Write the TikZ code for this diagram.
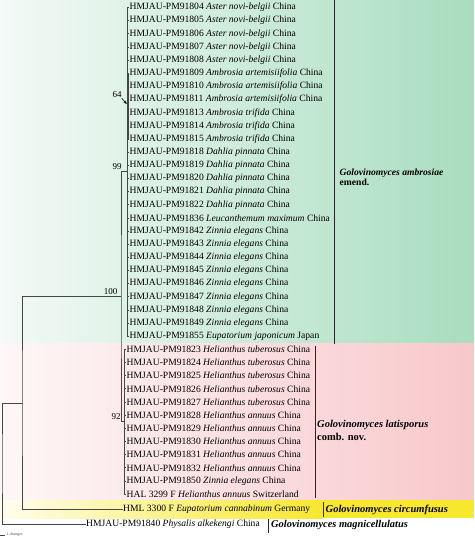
\documentclass[tikz,border=0pt]{standalone}
\usepackage{fontspec}
\setmainfont{Liberation Serif}
\usetikzlibrary{arrows.meta}
\definecolor{grnR}{RGB}{168,221,191}
\definecolor{grnL}{RGB}{244,250,247}
\definecolor{redR}{RGB}{248,200,203}
\definecolor{redL}{RGB}{254,247,247}
\definecolor{yelR}{RGB}{247,231,45}
\definecolor{yelL}{RGB}{255,254,238}
\definecolor{branch}{RGB}{70,70,70}
\begin{document}
\begin{tikzpicture}[x=1pt,y=-1pt,
  leaf/.style={anchor=west,inner sep=0.5pt,font=\fontsize{9.6}{11}\selectfont},
  br/.style={draw=branch,line width=0.8pt},
  cladebar/.style={draw=black!85,line width=0.9pt},
  boot/.style={inner sep=0pt,font=\fontsize{9}{10}\selectfont},
  clab/.style={anchor=west,inner sep=0pt,align=left}]
\useasboundingbox (0,0) rectangle (474,537);
% background bands
\shade[left color=grnL,right color=grnR] (0,0) rectangle (474,343);
\shade[left color=redL,right color=redR] (0,343) rectangle (474,500);
\shade[left color=yelL,right color=yelR] (0,500) rectangle (323,518);
\fill[yelR] (323,500) rectangle (474,518);
% green leaves
\foreach \i/\id/\sp/\ct in {
 0/HMJAU-PM91804/Aster novi-belgii/China,
 1/HMJAU-PM91805/Aster novi-belgii/China,
 2/HMJAU-PM91806/Aster novi-belgii/China,
 3/HMJAU-PM91807/Aster novi-belgii/China,
 4/HMJAU-PM91808/Aster novi-belgii/China,
 5/HMJAU-PM91809/Ambrosia artemisiifolia/China,
 6/HMJAU-PM91810/Ambrosia artemisiifolia/China,
 7/HMJAU-PM91811/Ambrosia artemisiifolia/China,
 8/HMJAU-PM91813/Ambrosia trifida/China,
 9/HMJAU-PM91814/Ambrosia trifida/China,
 10/HMJAU-PM91815/Ambrosia trifida/China,
 11/HMJAU-PM91818/Dahlia pinnata/China,
 12/HMJAU-PM91819/Dahlia pinnata/China,
 13/HMJAU-PM91820/Dahlia pinnata/China,
 14/HMJAU-PM91821/Dahlia pinnata/China,
 15/HMJAU-PM91822/Dahlia pinnata/China,
 16/HMJAU-PM91836/Leucanthemum maximum/China,
 17/HMJAU-PM91842/Zinnia elegans/China,
 18/HMJAU-PM91843/Zinnia elegans/China,
 19/HMJAU-PM91844/Zinnia elegans/China,
 20/HMJAU-PM91845/Zinnia elegans/China,
 21/HMJAU-PM91846/Zinnia elegans/China,
 22/HMJAU-PM91847/Zinnia elegans/China,
 23/HMJAU-PM91848/Zinnia elegans/China,
 24/HMJAU-PM91849/Zinnia elegans/China,
 25/HMJAU-PM91855/Eupatorium japonicum/Japan}{
  \pgfmathsetmacro\yy{7.5+13.15*\i}
  \node[leaf] (l\i) at (129,\yy) {\id\ \textit{\sp} \ct};
}
% red leaves
\foreach \i/\id/\sp/\ct in {
 26/HMJAU-PM91823/Helianthus tuberosus/China,
 27/HMJAU-PM91824/Helianthus tuberosus/China,
 28/HMJAU-PM91825/Helianthus tuberosus/China,
 29/HMJAU-PM91826/Helianthus tuberosus/China,
 30/HMJAU-PM91827/Helianthus tuberosus/China,
 31/HMJAU-PM91828/Helianthus annuus/China,
 32/HMJAU-PM91829/Helianthus annuus/China,
 33/HMJAU-PM91830/Helianthus annuus/China,
 34/HMJAU-PM91831/Helianthus annuus/China,
 35/HMJAU-PM91832/Helianthus annuus/China,
 36/HMJAU-PM91850/Zinnia elegans/China,
 37/HAL 3299 F/Helianthus annuus/Switzerland}{
  \pgfmathsetmacro\yy{7.5+13.15*\i}
  \node[leaf] (l\i) at (126,\yy) {\id\ \textit{\sp} \ct};
}
\node[leaf] (l38) at (122.5,509.5) {HML 3300 F \textit{Eupatorium cannabinum} Germany};
\node[leaf] (l39) at (85.5,524) {HMJAU-PM91840 \textit{Physalis alkekengi} China};
% internal nodes
\coordinate (n99) at (127,171.9);
\coordinate (n64) at (128.4,106.1);
\coordinate (n92) at (124,421.7);
\coordinate (n100) at (121,296.8);
\coordinate (nA) at (22,403.1);
\coordinate (root) at (2,463.5);
% branches
\draw[br] (n99) -| (n100) |- (n92);
\draw[br] (n100) -| (nA) |- (l38.west);
\draw[br] (nA) -| (root) |- (l39.west);
\draw[br] (n99) |- (l0.west);
\draw[br] (n99) |- (l25.west);
\foreach \i in {1,...,4} \draw[br] (n99 |- l\i.west) -- (l\i.west);
\foreach \i in {11,...,24} \draw[br] (n99 |- l\i.west) -- (l\i.west);
\draw[br] (n99 |- n64) -- (n64);
\draw[br] (n64) |- (l5.west);
\draw[br] (n64) |- (l10.west);
\foreach \i in {6,...,9} \draw[br] (n64 |- l\i.west) -- (l\i.west);
\draw[br] (n92) |- (l26.west);
\draw[br] (n92) |- (l37.west);
\foreach \i in {27,...,36} \draw[br] (n92 |- l\i.west) -- (l\i.west);
% support values
\node[boot] (b64) at (117,95) {64};
\coordinate (a64) at (126.8,104);
\draw[line width=0.6pt,-{Stealth[length=3.5pt,width=3pt]}] (b64.south east) -- (a64);
\node[boot] (b99) at (117,167) {99};
\node[boot] (b100) at (110.5,292) {100};
\node[boot] (b92) at (116,417) {92};
% clade bars
\draw[cladebar] (334,0) -- (334,344);
\draw[cladebar] (315,346) -- (315,498);
\draw[cladebar] (323,502) -- (323,517);
\draw[cladebar] (268,519) -- (268,533);
% clade labels
\node[clab,font=\bfseries\fontsize{9.6}{10.5}\selectfont] (cA) at (339.5,177.3) {\textit{Golovinomyces ambrosiae}\\emend.};
\node[clab,font=\bfseries\fontsize{10.5}{12.5}\selectfont] (cL) at (317,430.5) {\textit{Golovinomyces latisporus}\\comb. nov.};
\node[clab,font=\bfseries\itshape\fontsize{10.5}{12}\selectfont] (cC) at (325.5,509.5) {Golovinomyces circumfusus};
\node[clab,font=\bfseries\itshape\fontsize{10.4}{12}\selectfont] (cM) at (271,525.5) {Golovinomyces magnicellulatus};
% scale bar
\coordinate (s0) at (0,535);
\coordinate (s1) at (5,535);
\draw[line width=0.5pt,draw=branch] (s0) -- (s1);
\node[anchor=west,inner sep=0pt,text=black!70,font=\fontsize{4}{4}\selectfont] (sl) at (6.5,535) {1 changes};
\end{tikzpicture}
\end{document}
